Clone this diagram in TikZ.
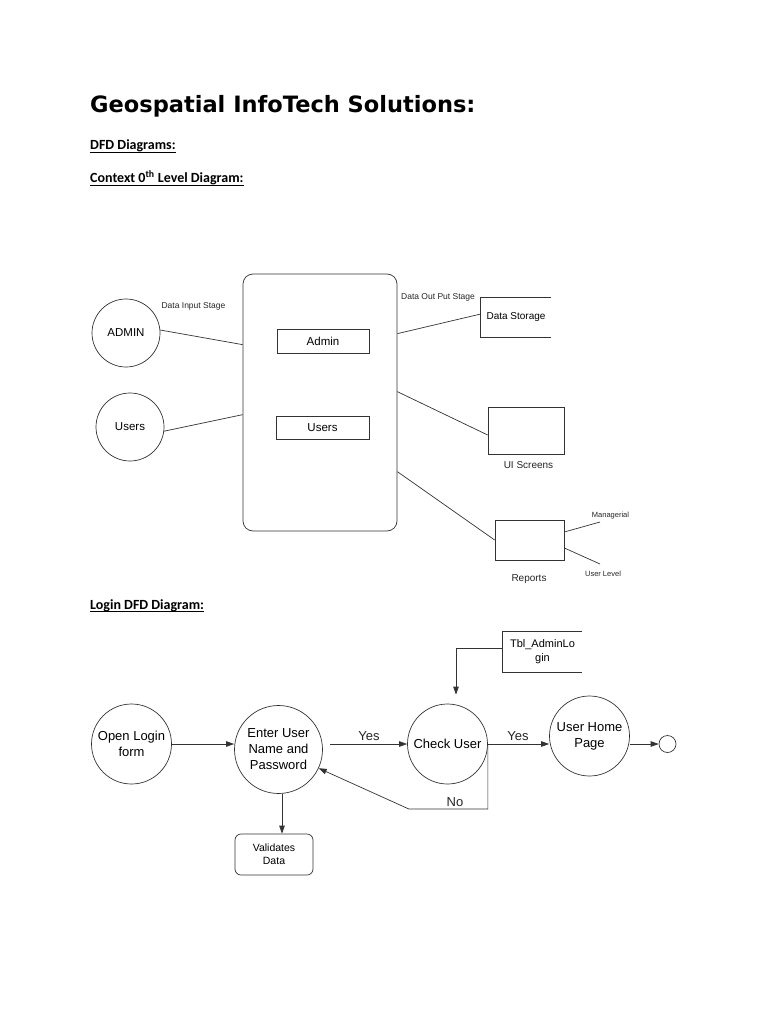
\documentclass[tikz,border=0pt]{standalone}
\usepackage{fontspec}
\setmainfont{Liberation Sans}
\newfontfamily\titlefont{DejaVu Sans}
\newfontfamily\headfont{Carlito}
\usetikzlibrary{arrows.meta,calc}
\begin{document}
\begin{tikzpicture}[x=1pt,y=-1pt,
  ln/.style={draw=black!80, line width=0.7pt},
  arr/.style={ln, -{Triangle[length=8pt,width=5.5pt]}},
  proc/.style={circle, ln, inner sep=0pt, align=center, font=\fontsize{13}{16}\selectfont},
  box/.style={rectangle, ln, inner sep=0pt},
  lbl/.style={inner sep=0pt, text=black!85},
  head/.style={anchor=base west, inner sep=0pt, font=\headfont\bfseries\fontsize{14}{17}\selectfont},
  ul/.style={line width=0.9pt}
]
\useasboundingbox (0,0) rectangle (768,1024);
\fill[white] (0,0) rectangle (768,1024);

% headings
\node[anchor=base west, inner sep=0pt, font=\titlefont\bfseries\fontsize{22.5}{27}\selectfont] (title) at (90,113) {Geospatial InfoTech Solutions:};
\node[head] (h1) at (90,150) {DFD Diagrams:};
\draw[ul] ($(h1.base west)+(0,2)$) -- ($(h1.base east)+(0,2)$);
\node[head] (h2) at (90,183) {Context 0\textsuperscript{th} Level Diagram:};
\draw[ul] ($(h2.base west)+(0,2)$) -- ($(h2.base east)+(0,2)$);
\node[head] (h3) at (90,609) {Login DFD Diagram:};
\draw[ul] ($(h3.base west)+(0,2)$) -- ($(h3.base east)+(0,2)$);

% context diagram
\node[proc, minimum size=68pt, font=\fontsize{11.5}{14}\selectfont] (admin) at (126,333) {ADMIN};
\node[proc, minimum size=68pt, font=\fontsize{11.5}{14}\selectfont] (users) at (130,427) {Users};
\node[box, rounded corners=10pt, minimum width=154pt, minimum height=257pt] (sys) at (320,402.5) {};
\node[box, minimum width=92pt, minimum height=24pt, font=\fontsize{11.5}{14}\selectfont] (adminbox) at (323,341) {Admin};
\node[box, minimum width=93pt, minimum height=23pt, font=\fontsize{11.5}{14}\selectfont] (usersbox) at (322.5,427.5) {Users};
\draw[ln] (admin.5) -- ($(sys.north west)+(0,71)$);
\draw[ln] (users.-7) -- ($(sys.north west)+(0,141)$);
\node[lbl, font=\fontsize{8.5}{10}\selectfont] (inlbl) at (193.5,306) {Data Input Stage};
\node[lbl, font=\fontsize{8.5}{10}\selectfont] (outlbl) at (438,297) {Data Out Put Stage};

\node[inner sep=0pt, minimum width=70pt, minimum height=39pt, font=\fontsize{10}{12}\selectfont] (ds) at (516,317.5) {Data Storage};
\draw[ln] (ds.north east) -- (ds.north west) -- (ds.south west) -- (ds.south east);
\draw[ln] ($(sys.north east)+(0,60)$) -- ($(ds.west)+(0,-3.5)$);

\node[box, minimum width=76pt, minimum height=47pt] (ui) at (526,430.5) {};
\node[lbl, font=\fontsize{10}{12}\selectfont] (uilbl) at (528.5,465) {UI Screens};
\draw[ln] ($(sys.north east)+(0,118)$) -- ($(ui.west)+(0,4.5)$);

\node[box, minimum width=69pt, minimum height=40pt] (rep) at (529.5,540) {};
\node[lbl, font=\fontsize{10}{12}\selectfont] (replbl) at (529,579) {Reports};
\draw[ln] ($(sys.north east)+(0,198)$) -- (rep.west);
\coordinate (mg) at (600,522);
\coordinate (ulv) at (600,564);
\draw[ln] ($(rep.east)+(0,-8)$) -- (mg);
\draw[ln] ($(rep.east)+(0,8)$) -- (ulv);
\node[lbl, font=\fontsize{7.5}{9}\selectfont] (mglbl) at (610.5,516) {Managerial};
\node[lbl, font=\fontsize{7.5}{9}\selectfont] (ullbl) at (603,574) {User Level};

% login diagram
\node[proc, minimum size=80pt] (open) at (131.5,744) {Open Login\\form};
\node[proc, minimum size=88pt] (enter) at (278.5,749.5) {Enter User\\Name and\\Password};
\node[proc, minimum size=80pt] (check) at (447.5,744) {Check User};
\node[proc, minimum size=80pt] (home) at (589.5,736) {User Home\\Page};
\node[circle, ln, minimum size=17pt, inner sep=0pt] (endc) at (667.5,744) {};
\node[box, rounded corners=6pt, minimum width=78pt, minimum height=41pt, align=center, font=\fontsize{10.5}{13}\selectfont] (val) at (274,854.5) {Validates\\Data};
\node[inner sep=0pt, minimum width=79pt, minimum height=40pt, align=center, font=\fontsize{11}{14}\selectfont] (tbl) at (542.5,652) {Tbl\_AdminLo\\gin};
\draw[ln] (tbl.north east) -- (tbl.north west) -- (tbl.south west) -- (tbl.south east);

\draw[arr] (open.east) -- (open.east -| enter.west);
\draw[arr] ($(enter.east)+(7.5,-5.5)$) -- (check.west);
\node[lbl, font=\fontsize{13}{16}\selectfont] (yes1) at (369,736) {Yes};
\draw[arr] (check.east) -- (check.east -| home.west);
\node[lbl, font=\fontsize{13}{16}\selectfont] (yes2) at (518,736) {Yes};
\draw[arr] (check.east -| home.east) -- (endc.west);
\draw[arr] ($(tbl.west)+(0,-4)$) -| ($(check.north)+(8.5,-9)$);
\draw[arr] (check.east) -- ++(0,65) -- ++(-79,0) -- (enter.-25);
\node[lbl, font=\fontsize{13}{16}\selectfont] (no) at (455,802) {No};
\draw[arr] ($(enter.south)+(3.5,0)$) -- ($(val.north)+(8,0)$);
\end{tikzpicture}
\end{document}
